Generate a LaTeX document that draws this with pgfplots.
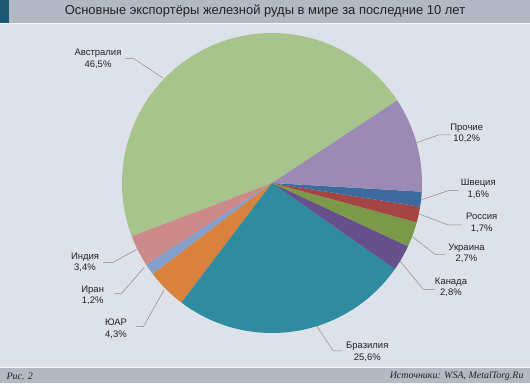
\documentclass[border=0pt]{standalone}
\usepackage{pgfplots}
\pgfplotsset{compat=1.18}
\usepackage{pgfplotstable}
\usepackage{fontspec}
\setmainfont{Liberation Sans}
\newfontfamily\footfont{Liberation Serif}
\definecolor{bgc}{HTML}{DDE1E9}
\definecolor{barc}{HTML}{B2B9C4}
\definecolor{blockc}{HTML}{1C5773}
\definecolor{footc}{HTML}{B4BAC4}
\definecolor{leadc}{HTML}{8C8C8C}
\definecolor{txtc}{HTML}{222222}
\definecolor{col0}{HTML}{A7C48C}% Австралия
\definecolor{col1}{HTML}{CC8A8A}% Индия
\definecolor{col2}{HTML}{86A0CC}% Иран
\definecolor{col3}{HTML}{D8823E}% ЮАР
\definecolor{col4}{HTML}{2E8BA0}% Бразилия
\definecolor{col5}{HTML}{66508C}% Канада
\definecolor{col6}{HTML}{7A9A4A}% Украина
\definecolor{col7}{HTML}{A54543}% Россия
\definecolor{col8}{HTML}{3B6A9E}% Швеция
\definecolor{col9}{HTML}{9B8BB4}% Прочие
\pgfplotstableread{
name value
Австралия 46.5
Индия 3.4
Иран 1.2
ЮАР 4.3
Бразилия 25.6
Канада 2.8
Украина 2.7
Россия 1.7
Швеция 1.6
Прочие 10.2
}\shares
\begin{document}
\begin{tikzpicture}[x=1bp,y=1bp]
% background and frame bars
\fill[bgc] (0,0) rectangle (530,383);
\fill[barc] (0,360) rectangle (530,383);
\fill[blockc] (0,360) rectangle (9,383);
\fill[white!80!bgc] (0,358.5) rectangle (530,360);
\fill[white!80!bgc] (0,14.7) rectangle (530,16.3);
\fill[footc] (0,0) rectangle (530,14.7);
\node[font=\fontsize{13}{15}\selectfont, text=txtc] at (265,371.5) {Основные экспортёры железной руды в мире за последние 10 лет};
\node[font=\footfont\itshape\fontsize{10}{12}\selectfont, text=txtc, anchor=west] at (3,7) {Рис. 2};
\node[font=\footfont\itshape\fontsize{10}{12}\selectfont, text=txtc, anchor=east] at (527,7) {Источники: WSA, MetalTorg.Ru};
\begin{axis}[
  at={(272bp,200bp)}, anchor=center,
  scale only axis, width=300bp, height=300bp,
  xmin=-1, xmax=1, ymin=-1, ymax=1,
  hide axis, clip=false]
\def\startang{33.4}
\pgfplotsforeachungrouped \i in {0,...,9}{%
  \pgfplotstablegetelem{\i}{value}\of\shares
  \pgfmathsetmacro\endang{\startang+3.6*\pgfplotsretval}%
  \edef\cmd{\noexpand\addplot[fill=col\i, draw=none, domain=\startang:\endang, samples=80]
     ({cos(x)},{sin(x)}) -- (axis cs:0,0) -- cycle;}%
  \cmd
  \global\let\startang\endang
}
\end{axis}
% leader lines
\begin{scope}[draw=leadc, line width=0.5bp]
\draw (125,324.7) -- (133.3,324.7) -- (163.3,304.7);
\draw (416.7,240.3) -- (438.3,248) -- (450,248);
\draw (420.7,183) -- (448.3,192.3) -- (458.3,192.3);
\draw (419.3,169) -- (448.3,158) -- (461.7,158);
\draw (412.3,146.3) -- (435,128.7) -- (445,128.7);
\draw (400,122) -- (423.3,93.7) -- (435,93.7);
\draw (316.7,57) -- (333.3,32) -- (342.7,32);
\draw (137.3,134) -- (113.3,120.7) -- (103.3,120.7);
\draw (144.3,115.7) -- (121.7,89.7) -- (115,89.7);
\draw (164,93) -- (143.3,56.3) -- (136,56.3);
\end{scope}
% labels
\begin{scope}[every node/.style={align=center, text=txtc, font=\fontsize{9.5}{11.5}\selectfont}]
\node at (98,324.2) {Австралия\\46,5\%};
\node at (466.7,249.7) {Прочие\\10,2\%};
\node at (478.3,194) {Швеция\\1,6\%};
\node at (481.7,160.2) {Россия\\1,7\%};
\node at (466.5,129.5) {Украина\\2,7\%};
\node at (451,95.5) {Канада\\2,8\%};
\node at (367.3,31.2) {Бразилия\\25,6\%};
\node at (85,120.5) {Индия\\3,4\%};
\node at (92.7,87.5) {Иран\\1,2\%};
\node at (116,54) {ЮАР\\4,3\%};
\end{scope}
\end{tikzpicture}
\end{document}
